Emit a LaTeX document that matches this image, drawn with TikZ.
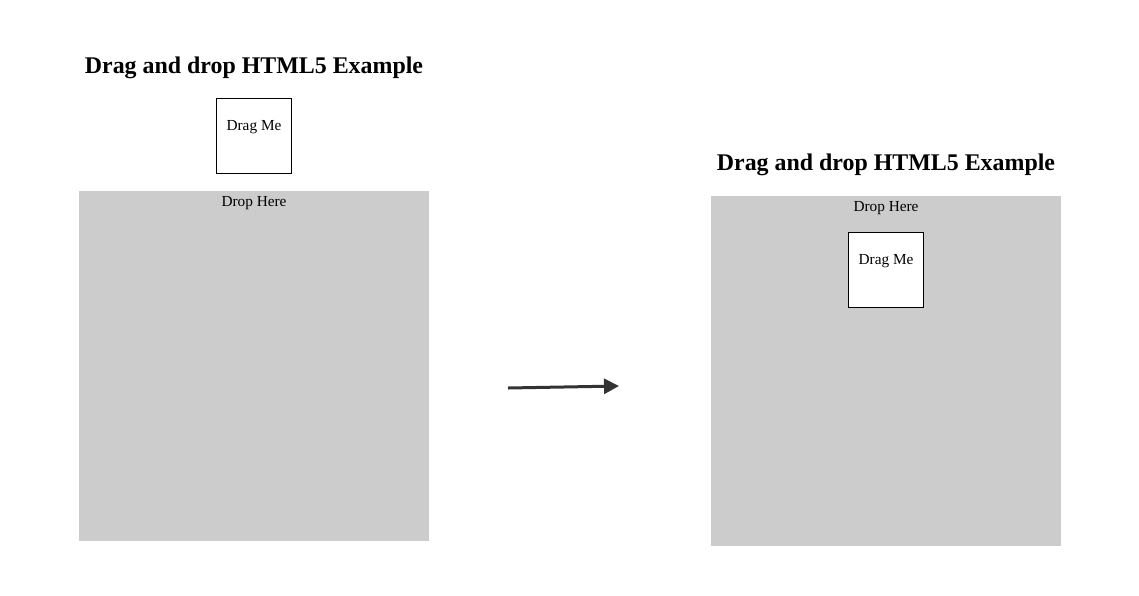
\documentclass[tikz,border=0pt]{standalone}
\usepackage{fontspec}
\setmainfont{Liberation Serif}
\usetikzlibrary{arrows.meta}
\definecolor{dropgray}{HTML}{CCCCCC}
\definecolor{arrowgray}{HTML}{333333}
\tikzset{
  px/.style={x=1pt,y=-1pt},
  title/.style={font=\fontsize{23.9}{26}\selectfont\bfseries, inner sep=0pt},
  dropzone/.style={fill=dropgray, draw=none, minimum width=350pt, minimum height=350pt, inner sep=0pt},
  dragbox/.style={draw=black, line width=1pt, fill=white, minimum width=75pt, minimum height=75pt, inner sep=0pt},
  smalltext/.style={font=\fontsize{15.3}{17}\selectfont, inner sep=0pt},
  flow/.style={draw=arrowgray, line width=3pt, -{Triangle[length=15pt,width=15pt]}}
}
\begin{document}
\begin{tikzpicture}[px]
\useasboundingbox (0,0) rectangle (1139,595);
% left
\node[title] (t1) at (254,68) {Drag and drop HTML5 Example};
\node[dragbox] (b1) at (254,136) {};
\node[smalltext] (b1t) at (254,127) {Drag Me};
\node[dropzone] (z1) at (254,366) {};
\node[smalltext] (z1t) at (254,203) {Drop Here};
% arrow
\coordinate (a1) at (508,388);
\coordinate (a2) at (619,386);
\draw[flow] (a1) -- (a2);
% right
\node[title] (t2) at (886,165) {Drag and drop HTML5 Example};
\node[dropzone] (z2) at (886,371) {};
\node[smalltext] (z2t) at (886,208) {Drop Here};
\node[dragbox] (b2) at (886,270) {};
\node[smalltext] (b2t) at (886,261) {Drag Me};
\end{tikzpicture}
\end{document}
